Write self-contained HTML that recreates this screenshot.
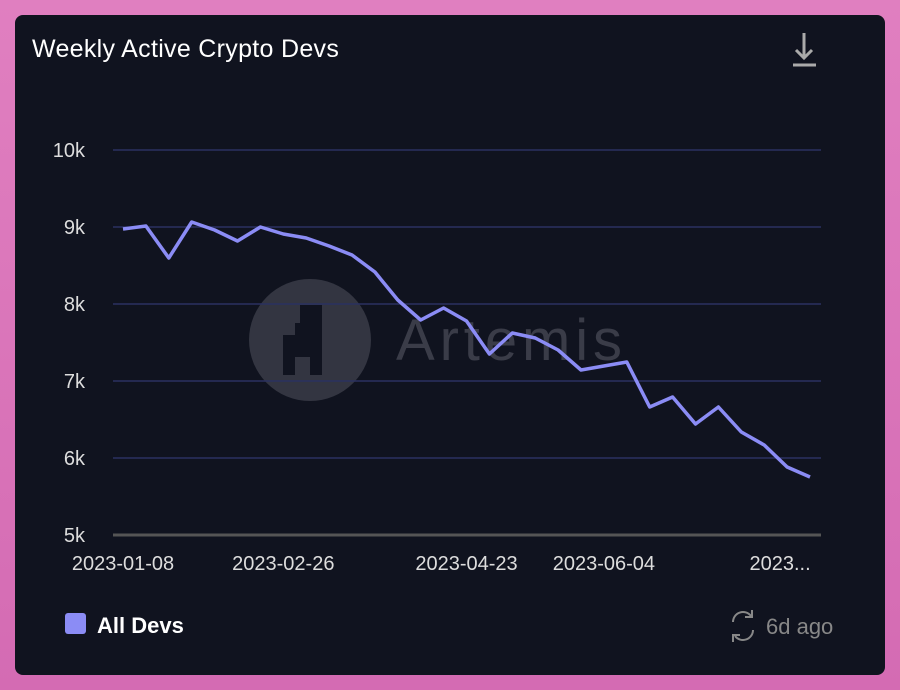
<!DOCTYPE html>
<html><head><meta charset="utf-8"><style>
html,body{margin:0;padding:0}
body{width:900px;height:690px;background:linear-gradient(180deg,#e07fc0,#d46bb3);font-family:"Liberation Sans",sans-serif;position:relative;overflow:hidden}
#card{position:absolute;left:15px;top:15px;width:870px;height:660px;background:#10131f;border-radius:8px}
#title{position:absolute;left:32px;top:35px;color:#fff;font-size:25px;letter-spacing:0.3px}
</style></head><body>
<div id="card"></div>
<div id="title">Weekly Active Crypto Devs</div>
<svg width="900" height="690" style="position:absolute;left:0;top:0">
<g stroke="#aaa" stroke-width="3" fill="none">
<line x1="804" y1="33" x2="804" y2="58"/><polyline points="796,50 804,58 812,50"/><line x1="793" y1="65" x2="816" y2="65"/>
</g>
<g>
<circle cx="310" cy="340" r="61" fill="#3a3c48" opacity="0.85"/>
<path d="M300 305h22v70h-12v-18h-15v18h-12v-40h12v-12h5z" fill="#10131f"/>
<text x="396" y="360" fill="#3a3c48" font-size="58" textLength="226">Artemis</text>
</g>
<g id="grid"></g><g id="xl"></g>
<path id="line" fill="none" stroke="#8b8cf5" stroke-width="3.5" stroke-linejoin="round"/>
<rect x="65" y="613" width="21" height="21" rx="3" fill="#8b8cf5"/>
<text x="97" y="633" fill="#fff" font-size="22" font-weight="bold">All Devs</text>
<g fill="none" stroke="#888" stroke-width="2">
<path d="M733 622a10 10 0 0 1 18-6"/><polyline points="752,610 752,617 745,617"/>
<path d="M753 630a10 10 0 0 1 -18 6"/><polyline points="733,642 733,635 740,635"/>
</g>
<text x="766" y="634" fill="#888" font-size="22">6d ago</text>
</svg>
<script>
const values=[8974,9013,8597,9065,8961,8818,9000,8909,8857,8753,8636,8416,8052,7792,7948,7779,7351,7623,7558,7403,7143,7195,7247,6662,6792,6442,6662,6338,6169,5883,5753];
const yTicks=[5000,6000,7000,8000,9000,10000];
const yTickLabels=["5k","6k","7k","8k","9k","10k"];
const xLabelIdx=[0,7,15,21,29];
const ns="http://www.w3.org/2000/svg";
const x=i=>123+i*(810-123)/(values.length-1);
const y=v=>535-(v-5000)*385/5000;
function dateStr(i){const d=new Date(Date.UTC(2023,0,8+7*i));return d.toISOString().slice(0,10);}
const grid=document.getElementById('grid');
yTicks.forEach((t,k)=>{
 const l=document.createElementNS(ns,'line');
 l.setAttribute('x1',113);l.setAttribute('x2',821);l.setAttribute('y1',y(t));l.setAttribute('y2',y(t));
 l.setAttribute('stroke',k==0?'#555':'#2b3160');l.setAttribute('stroke-width',k==0?3:1.5);
 
 
 grid.appendChild(l);
 const tx=document.createElementNS(ns,'text');
 tx.setAttribute('x',85);tx.setAttribute('y',y(t)+7);tx.setAttribute('text-anchor','end');
 tx.setAttribute('fill','#ddd');tx.setAttribute('font-size','20');tx.textContent=yTickLabels[k];
 
 
 grid.appendChild(tx);
});
const xl=document.getElementById('xl');
xLabelIdx.forEach((i,k)=>{
 const tx=document.createElementNS(ns,'text');
 tx.setAttribute('x',x(i)-(k==xLabelIdx.length-1?7:0));tx.setAttribute('y',570);tx.setAttribute('text-anchor','middle');
 tx.setAttribute('fill','#ddd');tx.setAttribute('font-size','20');
 tx.textContent=k==xLabelIdx.length-1?dateStr(i).slice(0,4)+'...':dateStr(i);
 
 
 xl.appendChild(tx);
});
document.getElementById('line').setAttribute('d',values.map((v,i)=>(i?'L':'M')+x(i).toFixed(1)+' '+y(v).toFixed(1)).join(''));
</script>
</body></html>
